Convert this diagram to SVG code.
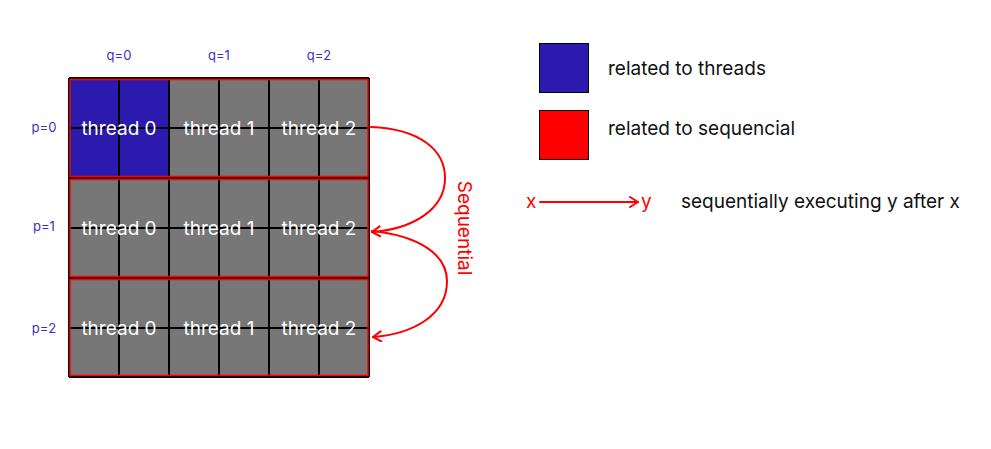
<svg xmlns="http://www.w3.org/2000/svg" width="991" height="449" viewBox="0 0 991 449">
<style>
.seq{fill:none;stroke:#ff0000;stroke-width:1.5}
.lbl{font-family:Inter,"Noto Sans",sans-serif;font-size:13px;fill:#3a2fc4;text-anchor:middle}
.th{font-family:Inter,"Noto Sans",sans-serif;font-size:19px;fill:#ffffff;text-anchor:middle}
.leg{font-family:Inter,"Noto Sans",sans-serif;font-size:19px;fill:#111111}
.red{font-family:Inter,"Noto Sans",sans-serif;font-size:19px;fill:#ff0000}
.arr{fill:none;stroke:#ff0000;stroke-width:2;stroke-linecap:round}
</style>
<defs>
<marker id="chev" viewBox="0 0 12 12" refX="10" refY="6" markerWidth="12" markerHeight="12" markerUnits="userSpaceOnUse" orient="auto">
<path d="M2,1 L10,6 L2,11" fill="none" stroke="#ff0000" stroke-width="2" stroke-linecap="round" stroke-linejoin="round"/>
</marker>
</defs>
<rect width="991" height="449" fill="#ffffff"/>
<g id="grid">
<rect x="69" y="78" width="300" height="299" fill="#777777"/>
<rect x="69" y="78" width="100" height="100" fill="#2c1aae"/>
<g stroke="#000" stroke-width="2">
<line x1="69" y1="78" x2="69" y2="377"/>
<line x1="119" y1="78" x2="119" y2="377"/>
<line x1="169" y1="78" x2="169" y2="377"/>
<line x1="219" y1="78" x2="219" y2="377"/>
<line x1="269" y1="78" x2="269" y2="377"/>
<line x1="319" y1="78" x2="319" y2="377"/>
<line x1="369" y1="78" x2="369" y2="377"/>
<line x1="69" y1="78" x2="369" y2="78"/>
<line x1="69" y1="128" x2="369" y2="128"/>
<line x1="69" y1="178" x2="369" y2="178"/>
<line x1="69" y1="228" x2="369" y2="228"/>
<line x1="69" y1="278" x2="369" y2="278"/>
<line x1="69" y1="328" x2="369" y2="328"/>
<line x1="69" y1="377" x2="369" y2="377"/>
</g>
<rect class="seq" x="70" y="79.5" width="298" height="97"/>
<rect class="seq" x="70" y="179.5" width="298" height="97"/>
<rect class="seq" x="70" y="279.5" width="298" height="96"/>
</g>
<g id="cells-text">
<text class="th" x="119" y="135">thread 0</text>
<text class="th" x="219" y="135">thread 1</text>
<text class="th" x="319" y="135">thread 2</text>
<text class="th" x="119" y="235">thread 0</text>
<text class="th" x="219" y="235">thread 1</text>
<text class="th" x="319" y="235">thread 2</text>
<text class="th" x="119" y="335">thread 0</text>
<text class="th" x="219" y="335">thread 1</text>
<text class="th" x="319" y="335">thread 2</text>
</g>
<g id="axis-labels">
<text class="lbl" x="119" y="60">q=0</text>
<text class="lbl" x="219" y="60">q=1</text>
<text class="lbl" x="319" y="60">q=2</text>
<text class="lbl" x="44" y="132">p=0</text>
<text class="lbl" x="44" y="231">p=1</text>
<text class="lbl" x="44" y="333">p=2</text>
</g>
<g id="connectors">
<path class="arr" d="M371,127 C420,129 445,150 445,178 C445,210 412,229 372,232" marker-end="url(#chev)"/>
<path class="arr" d="M372,231 C420,236 447,255 447,281 C447,316 412,334 373,337" marker-end="url(#chev)"/>
<line class="arr" x1="540" y1="202" x2="638" y2="202" marker-end="url(#chev)"/>
</g>
<g id="seq-label">
<text class="red" transform="translate(458,228) rotate(90)" text-anchor="middle">Sequential</text>
</g>
<g id="legend">
<rect x="539.5" y="43.5" width="49" height="49" fill="#2c1aae" stroke="#000" stroke-width="1"/>
<text class="leg" x="608" y="75">related to threads</text>
<rect x="539.5" y="110.5" width="49" height="49" fill="#ff0000" stroke="#000" stroke-width="1"/>
<text class="leg" x="608" y="135">related to sequencial</text>
<text class="red" x="526" y="208">x</text>
<text class="red" x="641" y="208">y</text>
<text class="leg" x="681" y="208">sequentially executing y after x</text>
</g>
</svg>
